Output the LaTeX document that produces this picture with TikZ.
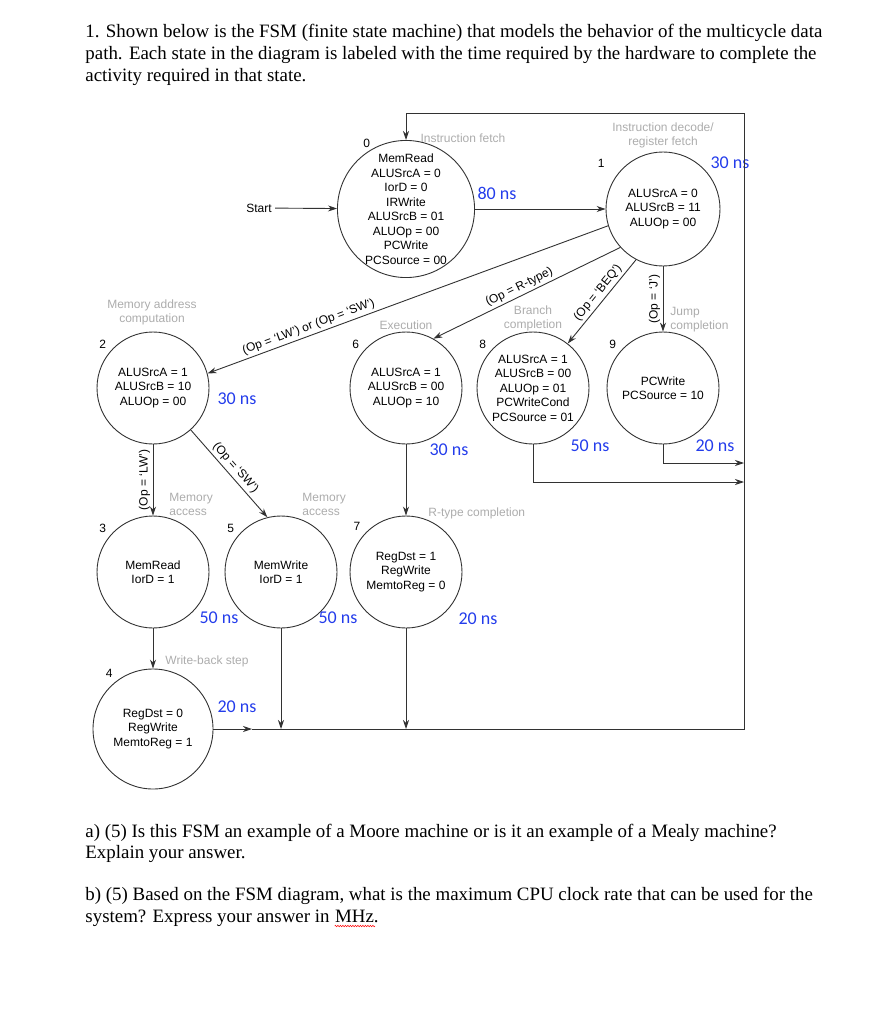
\documentclass[tikz,border=0pt]{standalone}
\usepackage{fontspec}
\setmainfont{Liberation Serif}
\newfontfamily\diagfont{Liberation Sans}
\newfontfamily\timefont{Carlito}
\usepackage{tikz}
\usetikzlibrary{arrows,arrows.meta,automata,positioning,shapes,decorations.pathmorphing}

\definecolor{nsblue}{RGB}{35,60,235}
\definecolor{phasegray}{RGB}{172,172,172}
\definecolor{wire}{RGB}{50,50,50}

\begin{document}
\begin{tikzpicture}[->,>={Stealth[length=9pt,width=6pt]},x=1pt,y=-1pt,line width=0.9pt,color=wire]
\tikzstyle{every state}=[shape=circle,draw=wire,line width=0.9pt,text=black,minimum size=112pt,inner sep=0pt,align=center,font=\diagfont\fontsize{12}{14.5}\selectfont]
\tikzstyle{every label}=[font=\diagfont\fontsize{12}{14}\selectfont,text=black,inner sep=1pt]
\tikzstyle{phase}=[text=phasegray,font=\diagfont\fontsize{12}{14}\selectfont,align=center,inner sep=0pt]
\tikzstyle{time}=[text=nsblue,font=\timefont\fontsize{18}{20}\selectfont,inner sep=0pt]
\tikzstyle{cond}=[font=\diagfont\fontsize{12}{14}\selectfont,text=black,inner sep=2.5pt]
\tikzstyle{para}=[font=\fontsize{18.9}{22}\selectfont,text=black,anchor=base west,inner sep=0pt]

\useasboundingbox (0,0) rectangle (879,1024);

% question text
\node[para] (q1) at (85,38) {1. Shown below is the FSM (finite state machine) that models the behavior of the multicycle data};
\node[para] (q2) at (85,60) {path. Each state in the diagram is labeled with the time required by the hardware to complete the};
\node[para] (q3) at (85,82) {activity required in that state.};

% states
\node[state] (s0) at (406,209) [minimum size=134pt,label={[label distance=0pt]120:0}] {MemRead\\ALUSrcA = 0\\IorD = 0\\IRWrite\\ALUSrcB = 01\\ALUOp = 00\\PCWrite\\PCSource = 00};
\node[state] (s1) [right of=s0, node distance=257pt, minimum size=114pt,label={[label distance=12pt]145:1}] {ALUSrcA = 0\\ALUSrcB = 11\\ALUOp = 00};
\node[state] (s6) [below of=s0, node distance=179pt,label={[label distance=3pt]140:6}] {ALUSrcA = 1\\ALUSrcB = 00\\ALUOp = 10};
\node[state] (s8) [right of=s6, node distance=127pt,label={[label distance=3pt]140:8}] {ALUSrcA = 1\\ALUSrcB = 00\\ALUOp = 01\\PCWriteCond\\PCSource = 01};
\node[state] (s9) [right of=s8, node distance=130pt,label={[label distance=3pt]140:9}] {PCWrite\\PCSource = 10};
\node[state] (s2) [left of=s6, node distance=253pt,label={[label distance=3pt]140:2}] {ALUSrcA = 1\\ALUSrcB = 10\\ALUOp = 00};
\node[state] (s3) [below of=s2, node distance=184pt,label={[label distance=3pt]140:3}] {MemRead\\IorD = 1};
\node[state] (s5) [right of=s3, node distance=128pt,label={[label distance=3pt]140:5}] {MemWrite\\IorD = 1};
\node[state] (s7) [right of=s5, node distance=125pt,label={[label distance=3pt]138:7}] {RegDst = 1\\RegWrite\\MemtoReg = 0};
\node[state] (s4) [below of=s3, node distance=157pt, minimum size=120pt,label={[label distance=3pt]128:4}] {RegDst = 0\\RegWrite\\MemtoReg = 1};

\node[font=\diagfont\fontsize{12}{14}\selectfont,text=black,inner sep=3pt] (start) at (259,208) {Start};

% phase names
\node[phase] (fetch) at (463,138) {Instruction fetch};
\node[phase] (decode) at (663,135) {Instruction decode/\\register fetch};
\node[phase] (addr) at (152,312) {Memory address\\computation};
\node[phase] (exec) [above of=s6, node distance=63pt] {Execution};
\node[phase] (branch) [above of=s8, node distance=70pt] {Branch\\completion};
\node[phase,align=left,anchor=west] (jump) at (670,320) {Jump\\completion};
\node[phase,align=left,anchor=west] (memrd) at (169,504) {Memory\\access};
\node[phase,align=left,anchor=west] (memwr) at (302,504) {Memory\\access};
\node[phase,anchor=west] (rtype) at (428,513) {R-type completion};
\node[phase,anchor=west] (wb) at (165,661) {Write-back step};

% times
\node[time] (t0) at (497,193) {80 ns};
\node[time] (t1) at (730,163) {30 ns};
\node[time] (t2) at (237,399) {30 ns};
\node[time] (t6) at (449,450) {30 ns};
\node[time] (t8) at (590,446) {50 ns};
\node[time] (t9) at (715,446) {20 ns};
\node[time] (t3) at (219,618) {50 ns};
\node[time] (t5) at (338,618) {50 ns};
\node[time] (t7) at (478,619) {20 ns};
\node[time] (t4) at (237,707) {20 ns};

\coordinate (ret) at (744,729);
\coordinate (topR) at (744,113);
\coordinate (back4) at (252,729);
\coordinate (in8) at (744,482);
\coordinate (in9) at (744,463);

\path
(start) edge (s0)
(s0) edge (s1)
(s1.197) edge node[cond,sloped,above,pos=0.74] {(Op = ‘LW’) or (Op = ‘SW’)} (s2.15)
(s1.222) edge node[cond,sloped,above,pos=0.52] {(Op = R-type)} (s6.61)
(s1.242) edge node[cond,sloped,above,pos=0.46] {(Op = ‘BEQ’)} (s8.52)
(s1) edge node[cond,rotate=90,above] {(Op = ‘J’)} (s9)
(s2) edge node[cond,rotate=90,above] {(Op = ‘LW’)} (s3)
(s2.312) edge node[cond,sloped,above] {(Op = ‘SW’)} (s5.104)
(s6) edge (s7)
(s3) edge (s4)
;

\draw (s4) -- (back4);
\draw (back4) -- (ret) -- (topR) -| (s0);
\draw (s5) -- (s5 |- ret);
\draw (s7) -- (s7 |- ret);
\draw (s8) |- (in8);
\draw (s9) |- (in9);

% questions
\node[para] (qa1) at (85,837) {a) (5) Is this FSM an example of a Moore machine or is it an example of a Mealy machine?};
\node[para] (qa2) at (85,858) {Explain your answer.};
\node[para] (qb1) at (85,900) {b) (5) Based on the FSM diagram, what is the maximum CPU clock rate that can be used for the};
\node[para] (qb2) at (85,922) {system? Express your answer in};
\node[para] (mhz) at ([xshift=4.7pt]qb2.base east) {MHz.};
\draw[-,red,line width=0.5pt,decorate,decoration={snake,amplitude=0.7pt,segment length=2.5pt}] ([yshift=-4pt]mhz.base west) -- ([xshift=-4pt,yshift=-4pt]mhz.base east);
\end{tikzpicture}
\end{document}
